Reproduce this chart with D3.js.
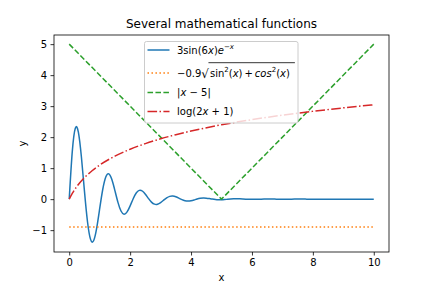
<!DOCTYPE html>
<html>
<head>
<meta charset="utf-8">
<script src="https://cdn.jsdelivr.net/npm/d3@7"></script>
<style>
  body { margin: 0; background: #fff; }
  svg { display: block; font-family: "DejaVu Sans", sans-serif; }
</style>
</head>
<body>
<svg id="chart" width="432" height="288"></svg>
<script>
const sineX = [0, 0.1, 0.2, 0.3, 0.4, 0.5, 0.6, 0.7, 0.8, 0.9, 1.0, 1.1, 1.2, 1.3, 1.4, 1.5, 1.6, 1.7, 1.8, 1.9,
  2.0, 2.1, 2.2, 2.3, 2.4, 2.5, 2.6, 2.7, 2.8, 2.9, 3.0, 3.1, 3.2, 3.3, 3.4, 3.5, 3.6, 3.7, 3.8, 3.9,
  4.0, 4.1, 4.2, 4.3, 4.4, 4.5, 4.6, 4.7, 4.8, 4.9, 5.0, 5.1, 5.2, 5.3, 5.4, 5.5, 5.6, 5.7, 5.8, 5.9,
  6.0, 6.1, 6.2, 6.3, 6.4, 6.5, 6.6, 6.7, 6.8, 6.9, 7.0, 7.1, 7.2, 7.3, 7.4, 7.5, 7.6, 7.7, 7.8, 7.9,
  8.0, 8.1, 8.2, 8.3, 8.4, 8.5, 8.6, 8.7, 8.8, 8.9, 9.0, 9.1, 9.2, 9.3, 9.4, 9.5, 9.6, 9.7, 9.8, 9.9, 10.0];
const sineY = [0, 1.5327, 2.2893, 2.1643, 1.3583, 0.2568, -0.7286, -1.2984, -1.3428, -0.9426, -0.3084,
  0.3111, 0.7171, 0.8164, 0.6322, 0.2759, -0.1056, -0.3836, -0.4868, -0.4120, -0.2179,
  0.0124, 0.1968, 0.2838, 0.2628, 0.1601, 0.0240, -0.0952, -0.1619, -0.1639, -0.1122,
  -0.0334, 0.0420, 0.0900, 0.1001, 0.0758, 0.0313, -0.0154, -0.0486, -0.0599, -0.0498,
  -0.0253, 0.0030, 0.0252, 0.0352, 0.0319, 0.0188, 0.0020, -0.0124, -0.0202, -0.0200,
  -0.0133, -0.0036, 0.0056, 0.0113, 0.0123, 0.0091, 0.0035, -0.0022, -0.0061, -0.0074,
  -0.0060, -0.0029, 0.0006, 0.0032, 0.0043, 0.0039, 0.0022, 0.0001, -0.0016, -0.0025,
  -0.0024, -0.0016, -0.0004, 0.0007, 0.0014, 0.0015, 0.0011, 0.0004, -0.0003, -0.0008,
  -0.0009, -0.0007, -0.0003, 0.0001, 0.0004, 0.0005, 0.0005, 0.0003, 0.0000, -0.0002,
  -0.0003, -0.0003, -0.0002, 0.0000, 0.0001, 0.0002, 0.0002, 0.0001, 0.0000, 0.0000];

const constX = [0, 10];
const constY = [-0.9, -0.9];

const absX = [0, 5, 10];
const absY = [5, 0, 5];

const logX = [0, 0.05, 0.1, 0.25, 0.5, 0.75, 1, 1.5, 2, 2.5, 3, 3.5, 4, 5, 6, 7, 8, 9, 10];
const logY = [0, 0.0953, 0.1823, 0.4055, 0.6931, 0.9163, 1.0986, 1.3863, 1.6094, 1.7918, 1.9459,
  2.0794, 2.1972, 2.3979, 2.5649, 2.7081, 2.8332, 2.9444, 3.0445];

const xTicks = [0, 2, 4, 6, 8, 10];
const yTicks = [-1, 0, 1, 2, 3, 4, 5];

// legend labels as mathtext-like pieces: i = italic, s = superscript
const labels = [
  [{ t: '3sin(6' }, { t: 'x', i: 1 }, { t: ')' }, { t: 'e', i: 1 }, { t: '−', s: 1 }, { t: 'x', i: 1, s: 1 }],
  [{ t: '−0.9' }, { t: '√', root: 1 }, { t: 'sin' }, { t: '2', s: 1 }, { t: '(' }, { t: 'x', i: 1 }, { t: ')\u2009+\u2009' },
    { t: 'cos', i: 1 }, { t: '2', s: 1 }, { t: '(' }, { t: 'x', i: 1 }, { t: ')' }],
  [{ t: '|' }, { t: 'x', i: 1 }, { t: ' − 5|' }],
  [{ t: 'log(2' }, { t: 'x', i: 1 }, { t: ' + 1)' }]
];

const series = [
  { xs: sineX, ys: sineY, color: '#1f77b4', dash: null, curve: d3.curveNatural },
  { xs: constX, ys: constY, color: '#ff7f0e', dash: '1.5,2.475', curve: d3.curveLinear },
  { xs: absX, ys: absY, color: '#2ca02c', dash: '5.55,2.4', curve: d3.curveLinear },
  { xs: logX, ys: logY, color: '#d62728', dash: '9.6,2.4,1.5,2.4', curve: d3.curveMonotoneX }
];

const W = 432, H = 288;
const margin = { top: 35, right: 43, bottom: 36, left: 54 };
const svg = d3.select('#chart');

const x = d3.scaleLinear().domain([-0.5, 10.5]).range([margin.left, W - margin.right]);
const y = d3.scaleLinear().domain([-1.705, 5.295]).range([H - margin.bottom, margin.top]);

svg.append('defs').append('clipPath').attr('id', 'clip')
  .append('rect')
  .attr('x', margin.left).attr('y', margin.top)
  .attr('width', W - margin.left - margin.right)
  .attr('height', H - margin.top - margin.bottom);

const plot = svg.append('g').attr('clip-path', 'url(#clip)');

series.forEach(s => {
  const pts = s.xs.map((v, k) => [v, s.ys[k]]);
  plot.append('path')
    .datum(pts)
    .attr('fill', 'none')
    .attr('stroke', s.color)
    .attr('stroke-width', 1.5)
    .attr('stroke-dasharray', s.dash)
    .attr('d', d3.line().x(d => x(d[0])).y(d => y(d[1])).curve(s.curve));
});

// axes
const xAxis = svg.append('g')
  .attr('transform', `translate(0,${H - margin.bottom})`)
  .call(d3.axisBottom(x).tickValues(xTicks).tickSize(3.5).tickPadding(3.5));
const yAxis = svg.append('g')
  .attr('transform', `translate(${margin.left},0)`)
  .call(d3.axisLeft(y).tickValues(yTicks).tickSize(3.5).tickPadding(3.5).tickFormat(d => d < 0 ? '−' + (-d) : d));

[xAxis, yAxis].forEach(a => {
  a.select('.domain').remove();
  a.selectAll('.tick line').attr('stroke', '#000').attr('stroke-width', 0.8);
  a.selectAll('.tick text').attr('font-size', 10).attr('font-family', '"DejaVu Sans", sans-serif').attr('fill', '#000');
});

svg.append('rect')
  .attr('x', margin.left).attr('y', margin.top)
  .attr('width', W - margin.left - margin.right)
  .attr('height', H - margin.top - margin.bottom)
  .attr('fill', 'none').attr('stroke', '#000').attr('stroke-width', 0.8);

svg.append('text')
  .attr('x', (margin.left + W - margin.right) / 2).attr('y', 28)
  .attr('text-anchor', 'middle').attr('font-size', 12)
  .text('Several mathematical functions');

svg.append('text')
  .attr('x', (margin.left + W - margin.right) / 2).attr('y', 281)
  .attr('text-anchor', 'middle').attr('font-size', 10)
  .text('x');

svg.append('text')
  .attr('transform', `translate(26,${(margin.top + H - margin.bottom) / 2}) rotate(-90)`)
  .attr('text-anchor', 'middle').attr('font-size', 10)
  .text('y');

// legend
const legend = svg.append('g');
legend.append('rect')
  .attr('x', 144.5).attr('y', 41.5).attr('width', 153.5).attr('height', 81.5)
  .attr('rx', 2)
  .attr('fill', '#fff').attr('fill-opacity', 0.8)
  .attr('stroke', '#cccccc').attr('stroke-width', 1);

const rowY = [50, 73, 92.5, 111.5];
series.forEach((s, k) => {
  const cy = rowY[k];
  legend.append('line')
    .attr('x1', 147.5).attr('x2', 169.5).attr('y1', cy).attr('y2', cy)
    .attr('stroke', s.color).attr('stroke-width', 1.5)
    .attr('stroke-dasharray', s.dash);

  let cx = 177;
  let rootStart = null;
  const base = cy + 3.6;
  labels[k].forEach(p => {
    const t = legend.append('text')
      .attr('x', cx)
      .attr('y', p.s ? base - 4.5 : base)
      .attr('font-size', p.s ? 7 : p.root ? 12 : 10)
      .attr('font-style', p.i ? 'italic' : null)
      .attr('xml:space', 'preserve')
      .style('white-space', 'pre')
      .text(p.t);
    if (p.root) t.attr('y', base + 1.8);
    cx += t.node().getComputedTextLength();
    if (p.root) { rootStart = cx - 0.5; cx += 1; }
  });
  if (rootStart !== null) {
    legend.append('line')
      .attr('x1', rootStart).attr('x2', cx + 5)
      .attr('y1', cy - 10.3).attr('y2', cy - 10.3)
      .attr('stroke', '#000').attr('stroke-width', 0.8);
  }
});
</script>
</body>
</html>
